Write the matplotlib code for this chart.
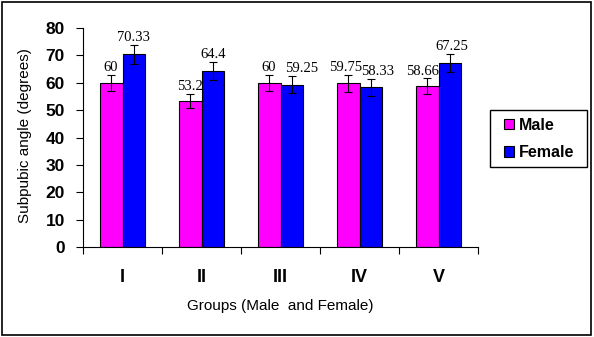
import numpy as np
import matplotlib.pyplot as plt
from matplotlib.patches import Patch, Rectangle

# dados
grupos = ['I', 'II', 'III', 'IV', 'V']
masculino = [60, 53.2, 60, 59.75, 58.66]
feminino = [70.33, 64.4, 59.25, 58.33, 67.25]
rotulos_m = ['60', '53.2', '60', '59.75', '58.66']
rotulos_f = ['70.33', '64.4', '59.25', '58.33', '67.25']
erro_m = [3.0, 2.6, 3.0, 3.2, 2.9]
erro_f = [3.5, 3.3, 3.1, 3.0, 3.3]

W, H = 594, 337
fig = plt.figure(figsize=(W/100, H/100), dpi=100)
ax = fig.add_axes([83/W, 1 - 247/H, 395/W, 219/H])

x = np.arange(len(grupos)) + 0.5
largura = 0.29

b1 = ax.bar(x - largura/2, masculino, largura, color='#FF00FF', edgecolor='black',
            linewidth=0.8, yerr=erro_m, capsize=3,
            error_kw={'elinewidth': 0.8, 'capthick': 0.8})
b2 = ax.bar(x + largura/2, feminino, largura, color='#0000FF', edgecolor='black',
            linewidth=0.8, yerr=erro_f, capsize=3,
            error_kw={'elinewidth': 0.8, 'capthick': 0.8})

# pequenos deslocamentos dos rótulos, como no original
desloc_m = [0, 0, 0, -0.03, -0.06]
desloc_f = [0, 0, 0.12, 0.08, 0.02]

for xi, v, e, r, d in zip(x - largura/2, masculino, erro_m, rotulos_m, desloc_m):
    ax.text(xi + d, v + e + 0.3, r, ha='center', va='bottom', fontsize=10.5,
            family='Liberation Serif')
for xi, v, e, r, d in zip(x + largura/2, feminino, erro_f, rotulos_f, desloc_f):
    ax.text(xi + d, v + e + 0.3, r, ha='center', va='bottom', fontsize=10.5,
            family='Liberation Serif')

ax.set_xlim(0, 5)
ax.set_ylim(0, 80)
ax.set_yticks(range(0, 81, 10))
ax.set_xticks(range(0, 6))
ax.set_xticklabels([])
ax.set_xticks(x, minor=True)
ax.set_xticklabels(grupos, minor=True, fontsize=13, fontweight='bold',
                   family='Liberation Sans')
ax.tick_params(axis='x', which='minor', length=0, pad=16)
ax.tick_params(axis='x', which='major', length=5, direction='out', width=0.8)
ax.tick_params(axis='y', length=5, direction='out', width=0.8, pad=8)
for t in ax.get_yticklabels():
    t.set_fontsize(12.5)
    t.set_fontweight('bold')
    t.set_family('Liberation Sans')

ax.spines['top'].set_visible(False)
ax.spines['right'].set_visible(False)
ax.spines['left'].set_linewidth(0.8)
ax.spines['bottom'].set_linewidth(0.8)

ax.set_ylabel('Subpubic angle (degrees)', fontsize=11, family='Liberation Sans')
ax.yaxis.set_label_coords((32 - 83)/395, 0.51)
ax.set_xlabel('Groups (Male  and Female)', fontsize=11, family='Liberation Sans',
              labelpad=9)

# caixa da legenda desenhada à parte para acertar o tamanho
fig.patches.append(Rectangle((490/W, 1 - 167/H), 97/W, 57/H, transform=fig.transFigure,
                             fill=False, edgecolor='black', linewidth=1.0))
handles = [Patch(facecolor='#FF00FF', edgecolor='black', linewidth=0.8),
           Patch(facecolor='#0000FF', edgecolor='black', linewidth=0.8)]
leg = fig.legend(handles, ['Male', 'Female'], loc='center',
                 bbox_to_anchor=(539/W, 1 - 139/H), frameon=False,
                 handlelength=0.65, handleheight=0.65, handletextpad=0.3,
                 borderpad=0, borderaxespad=0, labelspacing=0.8,
                 prop={'family': 'Liberation Sans', 'weight': 'bold', 'size': 11.5})

fig.patches.append(Rectangle((0.004, 0.006), 0.991, 0.988, transform=fig.transFigure,
                             fill=False, edgecolor='black', linewidth=1.2))

fig.savefig('out.png', dpi=100)
